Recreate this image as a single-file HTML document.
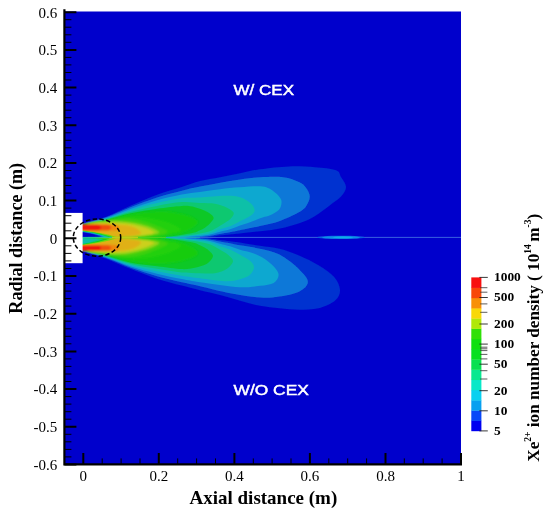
<!DOCTYPE html><html><head><meta charset="utf-8"><title>Xe2+ ion number density</title>
<style>html,body{margin:0;padding:0;background:#fff}svg{display:block}.t{font-family:"Liberation Serif",serif;font-size:15px;fill:#000}.b{font-family:"Liberation Serif",serif;font-weight:bold;fill:#000}.w{font-family:"Liberation Sans",sans-serif;fill:#fff;stroke:#fff;stroke-width:0.45px;font-size:14.4px}</style></head><body>
<svg width="550" height="512" viewBox="0 0 550 512">
<rect width="550" height="512" fill="#fff"/>
<defs><filter id="bl" x="-5%" y="-5%" width="110%" height="110%"><feGaussianBlur stdDeviation="0.6"/></filter><filter id="bl2" x="-5%" y="-5%" width="110%" height="110%"><feGaussianBlur stdDeviation="1.0"/></filter><filter id="bl4" x="-5%" y="-5%" width="110%" height="110%"><feGaussianBlur stdDeviation="0.7"/></filter><filter id="bl3" filterUnits="userSpaceOnUse" x="60" y="228" width="410" height="20"><feGaussianBlur stdDeviation="0.4"/></filter></defs>
<rect x="64.4" y="11.5" width="396.6" height="452.9" fill="#0000cc"/>
<g filter="url(#bl)"><path d="M82.6 223.5C86.4 222.4 97.4 220.0 105.4 217.0C113.5 214.0 122.3 209.3 130.9 205.6C139.5 201.9 148.5 197.8 157.0 194.7C165.5 191.6 174.6 189.2 181.8 186.9C189.0 184.6 193.6 182.7 200.0 181.1C206.4 179.5 213.3 178.5 220.0 177.2C226.7 175.9 233.3 174.6 240.0 173.3C246.7 172.0 251.8 170.4 260.0 169.3C268.2 168.1 279.8 166.7 289.0 166.4C298.2 166.0 307.2 166.6 315.0 167.2C322.8 167.8 331.7 168.6 336.0 170.2C340.3 171.8 339.3 174.2 341.0 177.0C342.7 179.8 346.0 183.6 346.0 186.9C346.0 190.2 343.9 193.3 341.0 196.6C338.1 199.8 332.8 203.1 328.4 206.4C324.0 209.7 319.4 213.4 314.7 216.2C310.0 219.0 305.8 220.9 300.0 223.0C294.2 225.1 286.2 227.2 280.0 228.6C273.8 229.9 269.2 230.3 262.5 231.1C255.8 231.9 245.4 232.8 240.0 233.4C234.6 233.9 233.3 234.0 230.0 234.4C226.7 234.7 223.0 235.1 220.0 235.5C217.0 235.9 214.2 236.4 212.0 236.7C209.8 237.0 207.8 237.4 207.0 237.5L76 237.7L76 223.5Z" fill="#0530d0"/>
<path d="M82.6 251.5C86.4 252.7 97.4 255.5 105.4 258.4C113.5 261.3 122.3 265.7 130.9 269.1C139.5 272.5 148.5 275.9 157.0 278.7C165.5 281.4 174.6 283.7 181.8 285.6C189.0 287.5 193.6 288.6 200.0 290.2C206.4 291.8 213.3 293.2 220.0 295.0C226.7 296.8 233.3 298.9 240.0 300.7C246.7 302.5 253.4 304.5 260.0 305.8C266.6 307.1 273.0 307.6 279.5 308.3C286.0 309.0 292.5 309.8 299.0 309.8C305.5 309.8 312.6 309.8 318.6 308.3C324.6 306.7 331.6 303.6 335.2 300.5C338.8 297.4 340.2 293.6 340.0 289.7C339.8 285.8 337.8 281.1 334.2 277.0C330.6 272.9 324.5 268.9 318.6 265.3C312.7 261.7 305.5 258.3 299.0 255.5C292.5 252.7 286.0 250.3 279.5 248.7C273.0 247.1 266.6 246.8 260.0 245.8C253.4 244.8 245.0 243.3 240.0 242.5C235.0 241.7 233.3 241.6 230.0 241.2C226.7 240.8 223.0 240.4 220.0 240.0C217.0 239.6 214.2 239.0 212.0 238.7C209.8 238.3 207.8 238.0 207.0 237.9L76 237.7L76 251.5Z" fill="#0530d0"/>
<path d="M82.6 223.7C86.4 222.7 97.4 220.4 105.4 217.6C113.5 214.9 122.3 210.5 130.9 207.1C139.5 203.8 148.5 200.2 157.0 197.5C165.5 194.8 174.6 192.5 181.8 190.7C189.0 188.9 193.6 187.9 200.0 186.6C206.4 185.3 213.3 183.9 220.0 182.7C226.7 181.5 233.3 180.4 240.0 179.5C246.7 178.6 252.8 177.6 260.0 177.2C267.2 176.8 276.9 176.4 283.4 177.2C289.9 178.0 295.2 180.2 299.0 182.0C302.8 183.8 304.2 185.3 306.0 187.7C307.8 190.1 309.8 193.5 309.8 196.6C309.8 199.7 308.0 203.7 306.0 206.4C304.0 209.1 302.3 210.3 298.0 212.7C293.7 215.1 285.9 218.7 280.0 220.9C274.1 223.0 269.2 224.0 262.5 225.6C255.8 227.2 245.4 229.2 240.0 230.3C234.6 231.4 233.3 231.6 230.0 232.2C226.7 232.8 223.7 233.2 220.0 233.9C216.3 234.6 211.3 235.7 208.0 236.2C204.7 236.7 202.2 236.8 200.0 237.0C197.8 237.2 195.8 237.4 195.0 237.5L76 237.7L76 223.7Z" fill="#1078d8"/>
<path d="M82.6 251.3C86.4 252.3 97.4 255.0 105.4 257.8C113.5 260.5 122.3 264.7 130.9 267.8C139.5 270.9 148.5 273.8 157.0 276.2C165.5 278.6 174.6 280.6 181.8 282.3C189.0 284.0 192.0 284.4 200.0 286.2C208.0 288.0 220.0 291.3 230.0 293.2C240.0 295.1 251.8 296.9 260.0 297.5C268.2 298.1 273.0 297.5 279.5 296.5C286.0 295.5 294.3 294.1 299.0 291.7C303.7 289.3 307.9 285.6 307.9 281.9C307.9 278.1 303.7 273.8 299.0 269.2C294.3 264.6 286.0 258.0 279.5 254.6C273.0 251.2 266.6 250.2 260.0 248.7C253.4 247.1 245.0 246.2 240.0 245.3C235.0 244.4 233.3 243.9 230.0 243.3C226.7 242.7 223.7 242.3 220.0 241.6C216.3 240.9 211.3 239.7 208.0 239.2C204.7 238.7 202.2 238.6 200.0 238.4C197.8 238.2 195.8 238.0 195.0 237.9L76 237.7L76 251.3Z" fill="#1078d8"/>
<path d="M82.6 224.0C86.4 223.0 97.4 220.8 105.4 218.3C113.5 215.7 122.3 211.7 130.9 208.7C139.5 205.7 148.5 202.7 157.0 200.3C165.5 197.9 174.6 195.9 181.8 194.5C189.0 193.1 193.6 192.9 200.0 192.0C206.4 191.1 213.3 190.0 220.0 189.2C226.7 188.4 232.9 187.7 240.0 187.3C247.1 186.9 256.8 185.9 262.5 186.6C268.2 187.3 271.1 189.8 274.0 191.7C276.9 193.5 278.8 195.9 280.0 197.7C281.2 199.5 281.7 200.7 281.5 202.7C281.3 204.7 280.9 207.6 279.0 209.7C277.1 211.8 272.8 213.9 270.0 215.2C267.2 216.5 265.8 216.3 262.5 217.5C259.2 218.7 253.8 220.8 250.0 222.2C246.2 223.5 243.3 224.4 240.0 225.6C236.7 226.8 233.3 228.2 230.0 229.2C226.7 230.2 223.7 230.7 220.0 231.7C216.3 232.7 212.4 234.2 208.0 235.0C203.6 235.8 197.4 236.1 193.6 236.5C189.8 236.9 186.4 237.3 185.0 237.5L76 237.7L76 224.0Z" fill="#10a8d0"/>
<path d="M82.6 251.0C86.4 252.0 97.4 254.5 105.4 257.1C113.5 259.7 122.3 263.8 130.9 266.5C139.5 269.3 148.5 271.7 157.0 273.7C165.5 275.8 174.6 277.6 181.8 279.0C189.0 280.4 190.3 280.8 200.0 282.2C209.7 283.6 230.0 286.6 240.0 287.2C250.0 287.8 254.4 286.5 260.0 285.8C265.6 285.1 270.6 284.7 273.7 282.9C276.8 281.1 278.6 277.7 278.6 275.0C278.7 272.3 276.8 269.7 274.0 266.7C271.2 263.7 266.0 259.6 262.0 257.2C258.0 254.8 253.7 253.5 250.0 252.3C246.3 251.0 243.3 250.7 240.0 249.7C236.7 248.7 233.3 247.3 230.0 246.3C226.7 245.3 223.7 244.7 220.0 243.7C216.3 242.7 212.4 241.2 208.0 240.4C203.6 239.6 197.4 239.3 193.6 238.9C189.8 238.5 186.4 238.1 185.0 237.9L76 237.7L76 251.0Z" fill="#10a8d0"/>
<path d="M82.6 224.2C86.4 223.3 97.4 221.3 105.4 218.9C113.5 216.6 122.3 212.9 130.9 210.2C139.5 207.6 148.5 205.1 157.0 203.1C165.5 201.1 174.6 199.2 181.8 198.3C189.0 197.4 192.8 197.9 200.0 197.5C207.2 197.1 218.3 195.8 225.0 195.7C231.7 195.6 235.8 196.0 240.0 197.2C244.2 198.4 247.6 200.7 250.0 202.7C252.4 204.7 254.2 207.3 254.5 209.3C254.8 211.3 254.4 212.7 252.0 214.7C249.6 216.7 243.7 219.3 240.0 221.2C236.3 223.1 233.3 224.9 230.0 226.2C226.7 227.5 223.7 227.9 220.0 229.2C216.3 230.5 212.4 232.7 208.0 233.8C203.6 234.8 198.4 234.9 193.6 235.5C188.8 236.1 181.9 236.9 179.0 237.2C176.1 237.5 176.5 237.4 176.0 237.5L76 237.7L76 224.2Z" fill="#10c0a8"/>
<path d="M82.6 250.8C86.4 251.7 97.4 254.1 105.4 256.5C113.5 258.9 122.3 262.8 130.9 265.3C139.5 267.7 148.5 269.5 157.0 271.3C165.5 273.0 174.6 274.5 181.8 275.7C189.0 276.9 192.8 277.3 200.0 278.2C207.2 279.1 218.3 281.0 225.0 281.2C231.7 281.4 235.8 280.3 240.0 279.2C244.2 278.1 247.7 276.7 250.0 274.7C252.3 272.7 254.0 269.5 254.0 267.2C254.0 264.9 252.3 262.8 250.0 260.7C247.7 258.6 243.3 256.6 240.0 254.7C236.7 252.8 233.3 250.9 230.0 249.5C226.7 248.1 223.7 247.5 220.0 246.2C216.3 244.9 212.4 242.7 208.0 241.6C203.6 240.5 198.4 240.5 193.6 239.9C188.8 239.3 181.9 238.5 179.0 238.2C176.1 237.9 176.5 237.9 176.0 237.9L76 237.7L76 250.8Z" fill="#10c0a8"/>
<path d="M82.6 224.5C86.4 223.6 97.4 221.7 105.4 219.6C113.5 217.4 122.3 214.0 130.9 211.8C139.5 209.5 148.5 207.5 157.0 205.9C165.5 204.3 174.6 202.6 181.8 202.1C189.0 201.6 194.5 202.7 200.0 203.0C205.5 203.3 210.5 202.9 215.0 203.7C219.5 204.5 223.9 206.2 227.0 207.7C230.1 209.2 233.0 210.9 233.7 212.7C234.4 214.4 232.4 216.5 231.0 218.2C229.6 219.9 227.7 220.9 225.0 222.7C222.3 224.4 217.8 227.2 215.0 228.7C212.2 230.2 211.6 230.7 208.0 231.7C204.4 232.7 198.4 233.8 193.6 234.5C188.8 235.2 183.3 235.7 179.0 236.2C174.7 236.7 169.8 237.3 168.0 237.5L76 237.7L76 224.5Z" fill="#10c870"/>
<path d="M82.6 250.5C86.4 251.4 97.4 253.6 105.4 255.8C113.5 258.1 122.3 261.8 130.9 264.0C139.5 266.1 148.5 267.4 157.0 268.8C165.5 270.2 174.6 271.7 181.8 272.4C189.0 273.1 194.5 273.1 200.0 273.2C205.5 273.3 210.5 273.9 215.0 273.2C219.5 272.4 224.0 270.7 227.0 268.7C230.0 266.7 232.8 263.5 233.0 261.2C233.2 258.9 230.2 256.6 228.0 254.7C225.8 252.8 222.2 251.0 220.0 249.7C217.8 248.4 217.0 247.7 215.0 246.7C213.0 245.7 211.6 244.7 208.0 243.7C204.4 242.7 198.4 241.6 193.6 240.9C188.8 240.1 183.3 239.7 179.0 239.2C174.7 238.7 169.8 238.1 168.0 237.9L76 237.7L76 250.5Z" fill="#10c870"/>
<path d="M82.6 224.7C86.4 223.9 97.4 222.1 105.4 220.2C113.5 218.3 122.3 215.2 130.9 213.3C139.5 211.4 148.5 209.9 157.0 208.7C165.5 207.5 175.5 206.1 181.8 205.9C188.1 205.6 190.8 206.2 195.0 207.2C199.2 208.2 203.9 210.0 207.0 211.7C210.1 213.4 212.8 215.4 213.5 217.2C214.2 218.9 212.4 220.4 211.0 222.2C209.6 223.9 206.8 226.4 205.0 227.7C203.2 229.0 201.9 229.4 200.0 230.2C198.1 231.0 197.1 231.9 193.6 232.7C190.1 233.5 183.8 234.5 179.0 235.2C174.2 235.9 168.2 236.5 165.0 236.9C161.8 237.3 160.8 237.4 160.0 237.5L76 237.7L76 224.7Z" fill="#10c828"/>
<path d="M82.6 250.3C86.4 251.1 97.4 253.1 105.4 255.2C113.5 257.3 122.3 260.8 130.9 262.7C139.5 264.6 148.5 265.2 157.0 266.3C165.5 267.4 175.5 268.9 181.8 269.1C188.1 269.3 190.8 268.6 195.0 267.7C199.2 266.8 204.0 265.6 207.0 263.7C210.0 261.8 212.7 258.4 213.0 256.2C213.3 254.0 210.3 252.1 209.0 250.7C207.7 249.3 206.5 248.6 205.0 247.7C203.5 246.8 201.9 246.0 200.0 245.2C198.1 244.4 197.1 243.5 193.6 242.7C190.1 241.9 183.8 240.9 179.0 240.2C174.2 239.5 168.2 238.9 165.0 238.5C161.8 238.1 160.8 238.0 160.0 237.9L76 237.7L76 250.3Z" fill="#10c828"/></g>
<g filter="url(#bl2)"><path d="M82.6 224.9C86.4 224.2 97.4 222.4 105.4 220.7C113.5 219.0 122.3 216.1 130.9 214.5C139.5 212.9 149.7 211.7 157.0 211.4C164.3 211.1 169.5 211.9 175.0 212.7C180.5 213.5 186.2 214.7 190.0 216.2C193.8 217.7 197.3 219.9 198.0 221.7C198.7 223.4 195.7 225.3 194.0 226.7C192.3 228.1 190.5 229.0 188.0 230.2C185.5 231.4 182.8 232.8 179.0 233.7C175.2 234.6 169.0 235.3 165.0 235.9C161.0 236.5 156.7 237.2 155.0 237.5L76 237.7L76 224.9Z" fill="#14cc10"/>
<path d="M82.6 250.1C86.4 250.9 97.4 252.8 105.4 254.7C113.5 256.6 122.3 259.8 130.9 261.3C139.5 262.8 149.7 263.5 157.0 263.7C164.3 263.9 169.5 263.1 175.0 262.3C180.5 261.5 186.2 260.1 190.0 258.7C193.8 257.3 197.3 255.4 198.0 253.7C198.7 251.9 195.7 249.6 194.0 248.2C192.3 246.8 190.5 246.3 188.0 245.2C185.5 244.1 182.8 242.6 179.0 241.7C175.2 240.8 169.0 240.1 165.0 239.5C161.0 238.9 156.7 238.2 155.0 237.9L76 237.7L76 250.1Z" fill="#14cc10"/>
<path d="M82.6 225.0C86.4 224.3 98.3 222.2 105.4 220.9C112.5 219.6 118.4 217.8 125.0 217.2C131.6 216.6 138.3 216.5 145.0 217.2C151.7 217.9 159.5 219.6 165.0 221.2C170.5 222.8 175.3 225.2 178.0 226.7C180.7 228.2 181.5 229.1 181.0 230.2C180.5 231.3 178.5 232.2 175.0 233.1C171.5 234.0 164.5 235.0 160.0 235.7C155.5 236.4 150.0 237.1 148.0 237.4L76 237.7L76 225.0Z" fill="#20d010"/>
<path d="M82.6 250.0C86.4 250.8 98.3 253.1 105.4 254.5C112.5 255.9 118.4 257.9 125.0 258.5C131.6 259.1 138.3 259.0 145.0 258.3C151.7 257.6 159.5 255.8 165.0 254.2C170.5 252.6 175.3 250.2 178.0 248.7C180.7 247.2 181.5 246.3 181.0 245.2C180.5 244.1 178.5 243.2 175.0 242.3C171.5 241.4 164.5 240.4 160.0 239.7C155.5 239.0 150.0 238.3 148.0 238.0L76 237.7L76 250.0Z" fill="#20d010"/>
<path d="M82.6 225.1C86.4 224.4 98.7 222.2 105.4 221.2C112.1 220.2 117.2 219.2 123.0 219.1C128.8 219.0 134.7 219.5 140.0 220.5C145.3 221.5 150.7 223.6 155.0 225.2C159.3 226.8 164.0 228.9 166.0 230.2C168.0 231.4 168.0 231.9 167.0 232.7C166.0 233.5 162.8 234.5 160.0 235.1C157.2 235.7 153.3 235.9 150.0 236.3C146.7 236.7 141.7 237.2 140.0 237.4L76 237.7L76 225.1Z" fill="#40d010"/>
<path d="M82.6 249.9C86.4 250.6 98.7 253.1 105.4 254.2C112.1 255.3 117.2 256.5 123.0 256.7C128.8 256.9 134.7 256.3 140.0 255.2C145.3 254.1 150.7 251.9 155.0 250.2C159.3 248.5 164.0 246.4 166.0 245.2C168.0 243.9 168.0 243.5 167.0 242.7C166.0 241.9 162.8 240.9 160.0 240.3C157.2 239.7 153.3 239.5 150.0 239.1C146.7 238.7 141.7 238.2 140.0 238.0L76 237.7L76 249.9Z" fill="#40d010"/>
<path d="M82.6 225.2C84.9 224.6 90.0 222.1 96.4 221.5C102.8 220.9 114.2 221.1 121.0 221.5C127.8 221.9 132.5 222.8 137.3 223.7C142.1 224.6 146.7 226.0 150.0 227.2C153.3 228.4 155.5 229.8 157.0 230.7C158.5 231.6 159.3 231.9 159.0 232.5C158.7 233.1 157.3 233.6 155.0 234.1C152.7 234.6 148.8 234.9 145.0 235.4C141.2 235.9 134.2 236.8 132.0 237.1L76 237.7L76 225.2Z" fill="#98d418"/>
<path d="M82.6 249.8C84.9 250.4 90.0 252.8 96.4 253.5C102.8 254.2 114.2 254.6 121.0 254.3C127.8 254.0 132.5 252.8 137.3 251.7C142.1 250.6 146.7 249.2 150.0 248.0C153.3 246.8 155.5 245.5 157.0 244.7C158.5 243.8 159.3 243.5 159.0 242.9C158.7 242.3 157.3 241.8 155.0 241.3C152.7 240.8 148.8 240.5 145.0 240.0C141.2 239.5 134.2 238.6 132.0 238.3L76 237.7L76 249.8Z" fill="#98d418"/>
<path d="M82.6 225.3C84.9 224.9 90.0 223.5 96.4 223.2C102.8 222.9 114.6 223.0 121.0 223.3C127.4 223.6 130.8 224.4 135.0 225.2C139.2 226.0 143.2 227.2 146.0 228.2C148.8 229.2 150.7 230.4 152.0 231.2C153.3 232.0 154.3 232.3 154.0 232.9C153.7 233.4 152.3 234.0 150.0 234.5C147.7 235.0 143.7 235.3 140.0 235.7C136.3 236.1 130.0 236.9 128.0 237.1L76 237.7L76 225.3Z" fill="#ccd01c"/>
<path d="M82.6 249.7C84.9 250.0 90.0 251.3 96.4 251.8C102.8 252.2 114.6 252.7 121.0 252.4C127.4 252.1 130.8 251.1 135.0 250.2C139.2 249.3 143.2 248.0 146.0 247.0C148.8 246.0 150.7 244.9 152.0 244.2C153.3 243.4 154.3 243.1 154.0 242.5C153.7 241.9 152.3 241.4 150.0 240.9C147.7 240.4 143.7 240.1 140.0 239.7C136.3 239.3 130.0 238.5 128.0 238.3L76 237.7L76 249.7Z" fill="#ccd01c"/>
<path d="M82.6 225.4C84.9 225.2 91.5 224.7 96.4 224.5C101.3 224.3 107.2 224.4 112.0 224.5C116.8 224.6 121.3 224.8 125.0 225.2C128.7 225.6 131.7 226.4 134.0 227.2C136.3 228.0 137.8 229.2 139.0 230.2C140.2 231.1 141.2 232.1 141.0 232.9C140.8 233.7 139.8 234.5 138.0 235.1C136.2 235.7 133.0 235.9 130.0 236.2C127.0 236.5 121.7 236.8 120.0 236.9L76 237.7L76 225.4Z" fill="#e0b018"/>
<path d="M82.6 249.6C84.9 249.8 91.5 250.5 96.4 250.7C101.3 250.9 107.2 250.9 112.0 250.9C116.8 250.8 121.3 250.8 125.0 250.4C128.7 249.9 131.7 249.1 134.0 248.2C136.3 247.3 137.8 246.1 139.0 245.2C140.2 244.2 141.2 243.3 141.0 242.5C140.8 241.7 139.8 240.8 138.0 240.3C136.2 239.7 133.0 239.5 130.0 239.2C127.0 238.9 121.7 238.6 120.0 238.5L76 237.7L76 249.6Z" fill="#e0b018"/>
<path d="M76 224.4H114.0Q119.0 224.4 119.0 227.6Q119.0 230.8 114.0 230.8H76Z" fill="#f08810"/>
<path d="M76 224.6H107.0Q111.0 224.6 111.0 227.6Q111.0 230.6 107.0 230.6H76Z" fill="#f05010"/>
<path d="M76 224.6H97.0Q101.0 224.6 101.0 227.6Q101.0 230.6 97.0 230.6H76Z" fill="#f01810"/>
<path d="M76 244.7H114.0Q119.0 244.7 119.0 247.9Q119.0 251.1 114.0 251.1H76Z" fill="#f08810"/>
<path d="M76 244.9H107.0Q111.0 244.9 111.0 247.9Q111.0 250.9 107.0 250.9H76Z" fill="#f05010"/>
<path d="M76 244.9H97.0Q101.0 244.9 101.0 247.9Q101.0 250.9 97.0 250.9H76Z" fill="#f01810"/></g>
<g filter="url(#bl4)"><path d="M76 230.6H82.6Q103.3 232.8 116.0 236.9L82.6 237.4H76Z" fill="#70d810"/>
<path d="M76 230.9H82.6Q100.8 233.0 112.0 236.9L82.6 237.4H76Z" fill="#10d020"/>
<path d="M76 231.2H82.6Q99.0 233.2 109.0 236.9L82.6 237.4H76Z" fill="#08c880"/>
<path d="M76 231.5H82.6Q97.4 233.4 106.5 236.8L82.6 237.3H76Z" fill="#10b0d0"/>
<path d="M76 231.8H82.6Q95.9 233.6 104.0 236.8L82.6 237.3H76Z" fill="#1078d8"/>
<path d="M76 232.1H82.6Q94.6 233.7 102.0 236.7L82.6 237.2H76Z" fill="#0530d0"/>
<path d="M76 232.4H82.6Q93.4 233.9 100.0 236.6L82.6 237.1H76Z" fill="#0000c8"/>
<path d="M76 244.9H82.6Q103.3 242.7 116.0 238.5L82.6 238.0H76Z" fill="#70d810"/>
<path d="M76 244.5H82.6Q99.6 242.4 110.0 238.6L82.6 238.1H76Z" fill="#10d020"/>
<path d="M76 244.1H82.6Q95.9 242.2 104.0 238.7L82.6 238.2H76Z" fill="#08c880"/>
<path d="M76 243.7H82.6Q92.8 242.0 99.0 238.8L82.6 238.3H76Z" fill="#10c0a8"/></g>
<g filter="url(#bl3)"><path d="M83 237.4H112" stroke="#20c8a0" stroke-width="1" fill="none"/>
<path d="M112 237.4H138" stroke="#c0d018" stroke-width="1" fill="none"/>
<path d="M138 237.4H166" stroke="#50d420" stroke-width="1" fill="none"/>
<path d="M166 237.4H200" stroke="#20b0c0" stroke-width="0.9" fill="none"/>
<path d="M200 237.4H461" stroke="#3860e0" stroke-width="1" fill="none"/>
<ellipse cx="341" cy="237.4" rx="24" ry="1.7" fill="#1060e0"/>
<ellipse cx="341" cy="237.4" rx="19" ry="1.2" fill="#1090e8"/>
<ellipse cx="343" cy="237.4" rx="10" ry="0.9" fill="#10b0e8"/></g>
<rect x="64.4" y="212.9" width="18.2" height="50.3" fill="#fff"/>
<ellipse cx="97" cy="237.6" rx="23.7" ry="18.7" fill="none" stroke="#000" stroke-width="1.5" stroke-dasharray="4.4 2.4"/>
<path d="M64.4 9.2V464.4H462.0" fill="none" stroke="#000" stroke-width="2.2"/>
<path d="M64.4 464.4h12M64.4 426.8h12M64.4 389.1h12M64.4 351.4h12M64.4 313.7h12M64.4 276.0h12M64.4 238.3h12M64.4 200.6h12M64.4 162.9h12M64.4 125.2h12M64.4 87.5h12M64.4 49.9h12M64.4 12.2h12M83.3 464.4v-11.5M158.8 464.4v-11.5M234.4 464.4v-11.5M309.9 464.4v-11.5M385.5 464.4v-11.5M461.0 464.4v-11.5" stroke="#000" stroke-width="2" fill="none"/>
<path d="M64.4 456.9h7M64.4 449.4h7M64.4 441.8h7M64.4 434.3h7M64.4 419.2h7M64.4 411.7h7M64.4 404.1h7M64.4 396.6h7M64.4 381.5h7M64.4 374.0h7M64.4 366.4h7M64.4 358.9h7M64.4 343.8h7M64.4 336.3h7M64.4 328.8h7M64.4 321.2h7M64.4 306.1h7M64.4 298.6h7M64.4 291.1h7M64.4 283.5h7M64.4 268.5h7M64.4 260.9h7M64.4 253.4h7M64.4 245.8h7M64.4 230.8h7M64.4 223.2h7M64.4 215.7h7M64.4 208.1h7M64.4 193.1h7M64.4 185.5h7M64.4 178.0h7M64.4 170.5h7M64.4 155.4h7M64.4 147.8h7M64.4 140.3h7M64.4 132.8h7M64.4 117.7h7M64.4 110.2h7M64.4 102.6h7M64.4 95.1h7M64.4 80.0h7M64.4 72.5h7M64.4 64.9h7M64.4 57.4h7M64.4 42.3h7M64.4 34.8h7M64.4 27.2h7M64.4 19.7h7M102.2 464.4v-6M121.1 464.4v-6M140.0 464.4v-6M177.7 464.4v-6M196.6 464.4v-6M215.5 464.4v-6M253.3 464.4v-6M272.1 464.4v-6M291.0 464.4v-6M328.8 464.4v-6M347.7 464.4v-6M366.6 464.4v-6M404.3 464.4v-6M423.2 464.4v-6M442.1 464.4v-6" stroke="#000" stroke-width="1" fill="none"/>
<text class="t" x="57.3" y="469.7" text-anchor="end">-0.6</text>
<text class="t" x="57.3" y="432.1" text-anchor="end">-0.5</text>
<text class="t" x="57.3" y="394.4" text-anchor="end">-0.4</text>
<text class="t" x="57.3" y="356.7" text-anchor="end">-0.3</text>
<text class="t" x="57.3" y="319.0" text-anchor="end">-0.2</text>
<text class="t" x="57.3" y="281.3" text-anchor="end">-0.1</text>
<text class="t" x="57.3" y="243.6" text-anchor="end">0</text>
<text class="t" x="57.3" y="205.9" text-anchor="end">0.1</text>
<text class="t" x="57.3" y="168.2" text-anchor="end">0.2</text>
<text class="t" x="57.3" y="130.5" text-anchor="end">0.3</text>
<text class="t" x="57.3" y="92.8" text-anchor="end">0.4</text>
<text class="t" x="57.3" y="55.2" text-anchor="end">0.5</text>
<text class="t" x="57.3" y="17.5" text-anchor="end">0.6</text>
<text class="t" x="83.3" y="480.5" text-anchor="middle">0</text>
<text class="t" x="158.8" y="480.5" text-anchor="middle">0.2</text>
<text class="t" x="234.4" y="480.5" text-anchor="middle">0.4</text>
<text class="t" x="309.9" y="480.5" text-anchor="middle">0.6</text>
<text class="t" x="385.5" y="480.5" text-anchor="middle">0.8</text>
<text class="t" x="461.0" y="480.5" text-anchor="middle">1</text>
<text class="b" font-size="19px" x="263.4" y="504" text-anchor="middle">Axial distance (m)</text>
<text class="b" font-size="18.1px" transform="translate(21.6 238.3) rotate(-90)" text-anchor="middle">Radial distance (m)</text>
<text class="w" x="233.6" y="94.7" textLength="60.4" lengthAdjust="spacingAndGlyphs">W/ CEX</text>
<text class="w" x="233.6" y="395.4" textLength="75.2" lengthAdjust="spacingAndGlyphs">W/O CEX</text>
<rect x="471.3" y="420.67" width="10.1" height="10.53" fill="#0000f0"/>
<rect x="471.3" y="410.43" width="10.1" height="10.53" fill="#0848f8"/>
<rect x="471.3" y="400.20" width="10.1" height="10.53" fill="#08a0f0"/>
<rect x="471.3" y="389.97" width="10.1" height="10.53" fill="#08d0f0"/>
<rect x="471.3" y="379.73" width="10.1" height="10.53" fill="#08e8c8"/>
<rect x="471.3" y="369.50" width="10.1" height="10.53" fill="#08e890"/>
<rect x="471.3" y="359.27" width="10.1" height="10.53" fill="#08e050"/>
<rect x="471.3" y="349.03" width="10.1" height="10.53" fill="#08e020"/>
<rect x="471.3" y="338.80" width="10.1" height="10.53" fill="#10e010"/>
<rect x="471.3" y="328.57" width="10.1" height="10.53" fill="#30e008"/>
<rect x="471.3" y="318.33" width="10.1" height="10.53" fill="#b0e808"/>
<rect x="471.3" y="308.10" width="10.1" height="10.53" fill="#f8d808"/>
<rect x="471.3" y="297.87" width="10.1" height="10.53" fill="#f89008"/>
<rect x="471.3" y="287.63" width="10.1" height="10.53" fill="#f84808"/>
<rect x="471.3" y="277.40" width="10.1" height="10.53" fill="#f81010"/>
<path d="M479.4 430.9H487.8M479.4 410.8H487.8M479.4 390.7H487.8M479.4 364.2H487.8M479.4 344.1H487.8M479.4 324.0H487.8M479.4 297.5H487.8M479.4 277.4H487.8" stroke="#222" stroke-width="0.9" fill="none"/>
<path d="M480.2 379.0H487.4M480.2 370.7H487.4M480.2 358.9H487.4M480.2 354.4H487.4M480.2 350.6H487.4M480.2 348.8H487.4M480.2 347.2H487.4M480.2 312.3H487.4M480.2 303.9H487.4M480.2 292.2H487.4M480.2 287.7H487.4" stroke="#333" stroke-width="0.8" fill="none"/>
<text class="b" font-size="13.4px" x="494" y="434.8">5</text>
<text class="b" font-size="13.4px" x="494" y="414.7">10</text>
<text class="b" font-size="13.4px" x="494" y="394.6">20</text>
<text class="b" font-size="13.4px" x="494" y="368.1">50</text>
<text class="b" font-size="13.4px" x="494" y="348.0">100</text>
<text class="b" font-size="13.4px" x="494" y="327.9">200</text>
<text class="b" font-size="13.4px" x="494" y="301.4">500</text>
<text class="b" font-size="13.4px" x="494" y="281.3">1000</text>
<text class="b" font-size="17.2px" transform="translate(538.7 461.7) rotate(-90)">Xe<tspan font-size="9.5px" dy="-8">2+</tspan><tspan dy="8"> ion number density ( 10</tspan><tspan font-size="9.5px" dy="-8">14 </tspan><tspan dy="8">m</tspan><tspan font-size="9.5px" dy="-8">-3</tspan><tspan dy="8">)</tspan></text>
</svg></body></html>
